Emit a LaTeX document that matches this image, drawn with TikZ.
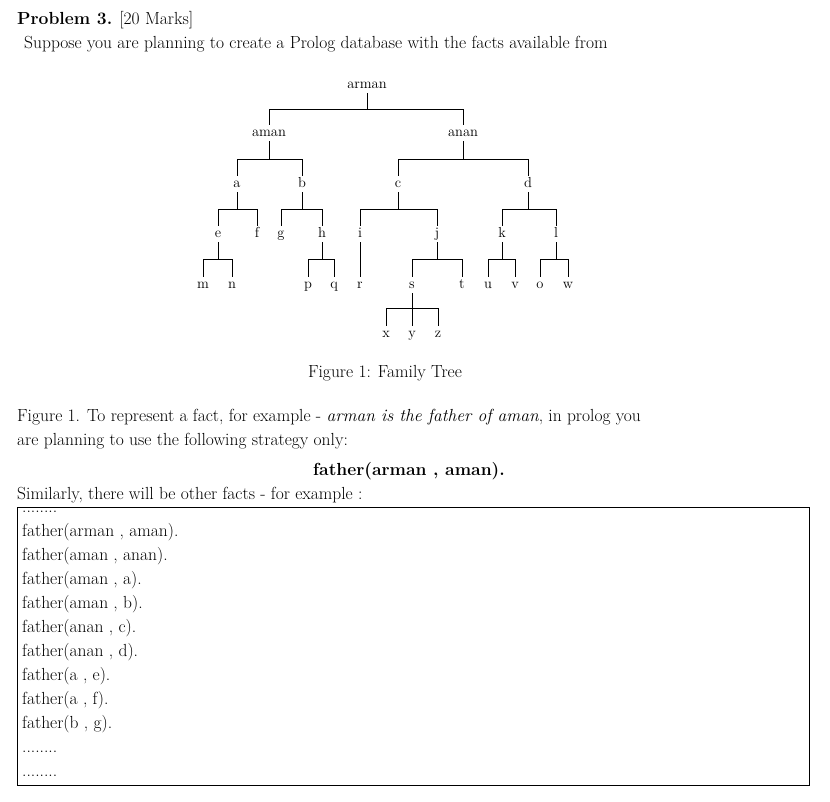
\documentclass[tikz,border=0pt]{standalone}
\begin{document}
\begin{tikzpicture}[x=1pt,y=-1pt,
 lab/.style={font=\fontsize{14.5}{16}\selectfont,inner sep=0pt},
 txt/.style={font=\fontsize{17.5}{22}\selectfont,inner sep=0pt,anchor=west},
 tl/.style={line width=0.8pt}]
\useasboundingbox (0,0) rectangle (830,801);
\foreach \n/\t/\x/\y in {arman/arman/367/85, aman/aman/269/133, anan/anan/463/133,
 a/a/237/184, b/b/302/184, c/c/398/184, d/d/528/184,
 e/e/218/234, f/f/257/234, g/g/281/234, h/h/322/234, i/i/360/234, j/j/437/234, k/k/502/234, l/l/556/234,
 m/m/203/285, n/n/232/285, p/p/308/285, q/q/334/285, r/r/360/285, s/s/412/285, t/t/462/285, u/u/488/285, v/v/515/285, o/o/540/285, w/w/568/285,
 x/x/386/334, y/y/412/334, z/z/438/334}
 \node[lab] (\n) at (\x,\y) {\strut\t};
\newcommand\famtree[4]{% parent, barY, left, right
 \draw[tl] (#1.south) -- (#1.south |- 0,#2);
 \draw[tl] (#3.north |- 0,#2) -- (#4.north |- 0,#2);
 \draw[tl] (#3.north |- 0,#2) -- (#3.north);
 \draw[tl] (#4.north |- 0,#2) -- (#4.north);}
\famtree{arman}{109}{aman}{anan}
\famtree{aman}{159}{a}{b}
\famtree{anan}{159}{c}{d}
\famtree{a}{209}{e}{f}
\famtree{b}{209}{g}{h}
\famtree{c}{209}{i}{j}
\famtree{d}{209}{k}{l}
\famtree{e}{259}{m}{n}
\famtree{h}{259}{p}{q}
\famtree{j}{259}{s}{t}
\famtree{k}{259}{u}{v}
\famtree{l}{259}{o}{w}
\famtree{s}{308}{x}{z}
\draw[tl] (y.north |- 0,308) -- (y.north);
\draw[tl] (i.south) -- (r.north);
\node[lab,font=\fontsize{17.5}{22}\selectfont] (cap) at (385,373) {Figure 1: Family Tree};
\node[txt] (h1) at (17,20) {\strut\textbf{Problem 3.} [20 Marks]};
\node[txt] (h2) at (24,44) {\strut Suppose you are planning to create a Prolog database with the facts available from};
\node[txt] (p1) at (17,417) {\strut Figure 1. To represent a fact, for example - \textit{arman is the father of aman}, in prolog you};
\node[txt] (p2) at (17,441) {\strut are planning to use the following strategy only:};
\node[txt,anchor=center] (p3) at (409,471) {\strut\textbf{father(arman , aman).}};
\node[txt] (p4) at (17,495) {\strut Similarly, there will be other facts - for example :};
\draw[line width=0.8pt] (17,507) rectangle (809,785);
\node[txt] (L1) at (22,508) {\strut........};
\node[txt] (L2) at (22,532) {\strut father(arman , aman).};
\node[txt] (L3) at (22,556) {\strut father(aman , anan).};
\node[txt] (L4) at (22,580) {\strut father(aman , a).};
\node[txt] (L5) at (22,604) {\strut father(aman , b).};
\node[txt] (L6) at (22,628) {\strut father(anan , c).};
\node[txt] (L7) at (22,652) {\strut father(anan , d).};
\node[txt] (L8) at (22,676) {\strut father(a , e).};
\node[txt] (L9) at (22,700) {\strut father(a , f).};
\node[txt] (L10) at (22,724) {\strut father(b , g).};
\node[txt] (L11) at (22,748) {\strut........};
\node[txt] (L12) at (22,772) {\strut........};
\end{tikzpicture}
\end{document}
